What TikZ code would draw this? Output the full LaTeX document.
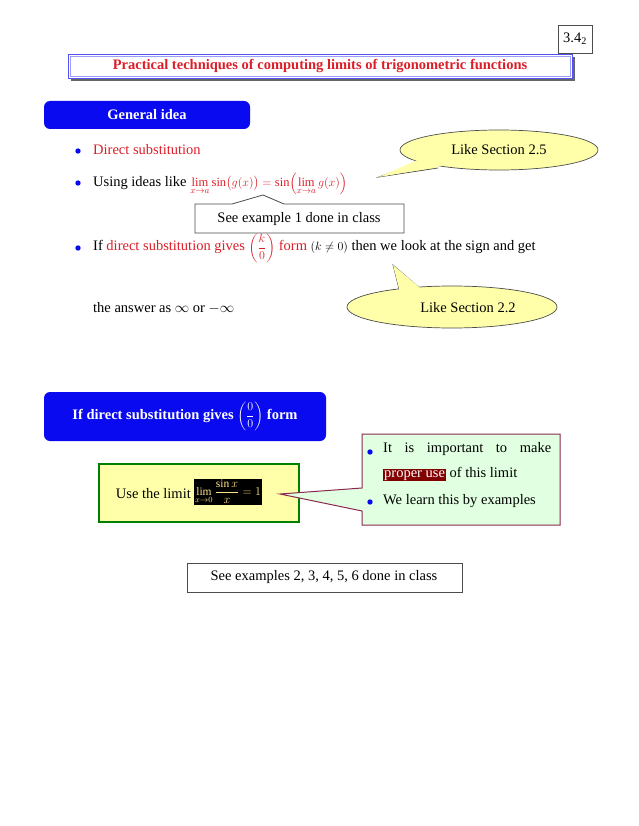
\documentclass[tikz,border=0pt]{standalone}
\usepackage{fontspec}
\setmainfont{Liberation Serif}
\usepackage{amsmath}
\usetikzlibrary{shapes.geometric}
\definecolor{dred}{RGB}{220,30,40}
\definecolor{bblue}{RGB}{10,10,240}
\definecolor{lyel}{RGB}{255,255,170}
\definecolor{lgreen}{RGB}{225,255,225}
\definecolor{maroon}{RGB}{140,40,80}
\definecolor{dkred}{RGB}{130,0,0}
\newcommand{\fsz}{\fontsize{14.5}{20}\selectfont}
\newcommand{\msz}{\fontsize{12.5}{14}\selectfont}
\tikzset{x=1pt,y=-1pt,
 txt/.style={font=\fsz,inner sep=0pt,anchor=west},
 bfw/.style={font=\bfseries\fsz},
 plainbox/.style={draw=black!70,fill=white,line width=0.8pt},
 bluebox/.style={fill=bblue,rounded corners=6pt},
 callshape/.style={draw=black!70,fill=lyel,line width=0.7pt},
 bul/.style={circle,fill=bblue,inner sep=1.9pt}}
\begin{document}
\begin{tikzpicture}
\useasboundingbox (0,0) rectangle (638,826);
% page tag
\draw[black!70,line width=0.8pt] (558,25) rectangle (592,53);
\node[txt,anchor=center] (tag) at (575,39) {3.4\textsubscript{2}};
% title
\fill[black!60] (71,57) rectangle (575,81);
\draw[plainbox,draw=bblue!70] (68,54) rectangle (572,78);
\draw[bblue!40,line width=0.6pt] (70,56) rectangle (570,76);
\node[txt,anchor=center,text=dred,bfw] (title) at (320,66) {Practical techniques of computing limits of trigonometric functions};
% general idea
\fill[bluebox] (44,101) rectangle (250,129);
\node[txt,anchor=center,text=white,bfw] (gi) at (147,115) {General idea};
% bullets
\node[bul] (b1) at (78,151) {};
\node[txt,text=dred] (t1) at (93,150) {Direct substitution};
\node[bul] (b2) at (78,183) {};
\node[txt] (t2) at (93,184) {Using ideas like \textcolor{dred}{\msz$\lim\limits_{x\to a}\sin\bigl(g(x)\bigr)=\sin\Bigl(\lim\limits_{x\to a}g(x)\Bigr)$}};
% callout Like Section 2.5
\coordinate (p1) at (379,177);
\draw[callshape] (424,160) -- (p1) -- (438,168);
\draw[callshape] (499,150) ellipse[x radius=99,y radius=20];
\fill[lyel] (422,158) -- (p1) -- (441,166) -- (445,160) -- cycle;
\node[txt,anchor=center] (c1) at (499,150) {Like Section 2.5};
% example 1 box
\coordinate (p2) at (263,195);
\draw[plainbox] (195,204) -- (232,204) -- (p2) -- (284,204) -- (404,204) -- (404,233) -- (195,233) -- cycle;
\node[txt,anchor=center] (e1) at (299,219) {See example 1 done in class};
% third bullet
\node[bul] (b3) at (78,248) {};
\node[txt] (t3) at (93,248) {If \textcolor{dred}{direct substitution gives {\msz$\displaystyle\left(\frac{k}{0}\right)$} form} {\msz$(k\neq0)$} then we look at the sign and get};
\node[txt] (t4) at (93,308) {the answer as $\infty$ or $-\infty$};
% callout Like Section 2.2
\coordinate (p3) at (393,265);
\draw[callshape] (400,293) -- (p3) -- (422,290);
\draw[callshape] (452,307) ellipse[x radius=105,y radius=21];
\fill[lyel] (401,296) -- (p3) -- (425,292) -- (415,300) -- cycle;
\node[txt,anchor=center] (c2) at (468,308) {Like Section 2.2};
% 0/0 box
\fill[bluebox] (44,392) rectangle (326,441);
\node[txt,anchor=center,text=white,bfw] (zz) at (185,416) {If direct substitution gives {\msz$\displaystyle\left(\frac{0}{0}\right)$} form};
% yellow box
\draw[fill=lyel,draw=green!50!black,line width=1.5pt] (99,464) rectangle (299,522);
\node[fill=black,inner sep=1pt,text=lyel!80!orange,font=\fontsize{11.5}{13}\selectfont,anchor=west] (lim) at (194,492) {$\displaystyle\lim_{x\to0}\frac{\sin x}{x}=1$};
\node[txt,anchor=east] (ul) at ([xshift=-3pt,yshift=-2pt]lim.west) {Use the limit};
% green callout
\coordinate (p4) at (280,494);
\draw[fill=lgreen,draw=maroon,line width=1pt] (362,434) -- (560,434) -- (560,525) -- (362,525) -- (362,511) -- (p4) -- (362,488) -- cycle;
\node[bul] (b4) at (370,452) {};
\node[txt,anchor=north west,text width=168,align=justify,font=\fontsize{14.5}{25}\selectfont] (g1) at (383,442) {It is important to make {\setlength{\fboxsep}{1pt}\colorbox{dkred}{\textcolor{white}{proper use}}} of this limit};
\node[bul] (b5) at (370,502) {};
\node[txt] (g3) at (383,501) {We learn this by examples};
% examples box
\draw[plainbox] (187,563) rectangle (462,592);
\node[txt,anchor=center] (e2) at (324,577) {See examples 2, 3, 4, 5, 6 done in class};
\end{tikzpicture}
\end{document}
